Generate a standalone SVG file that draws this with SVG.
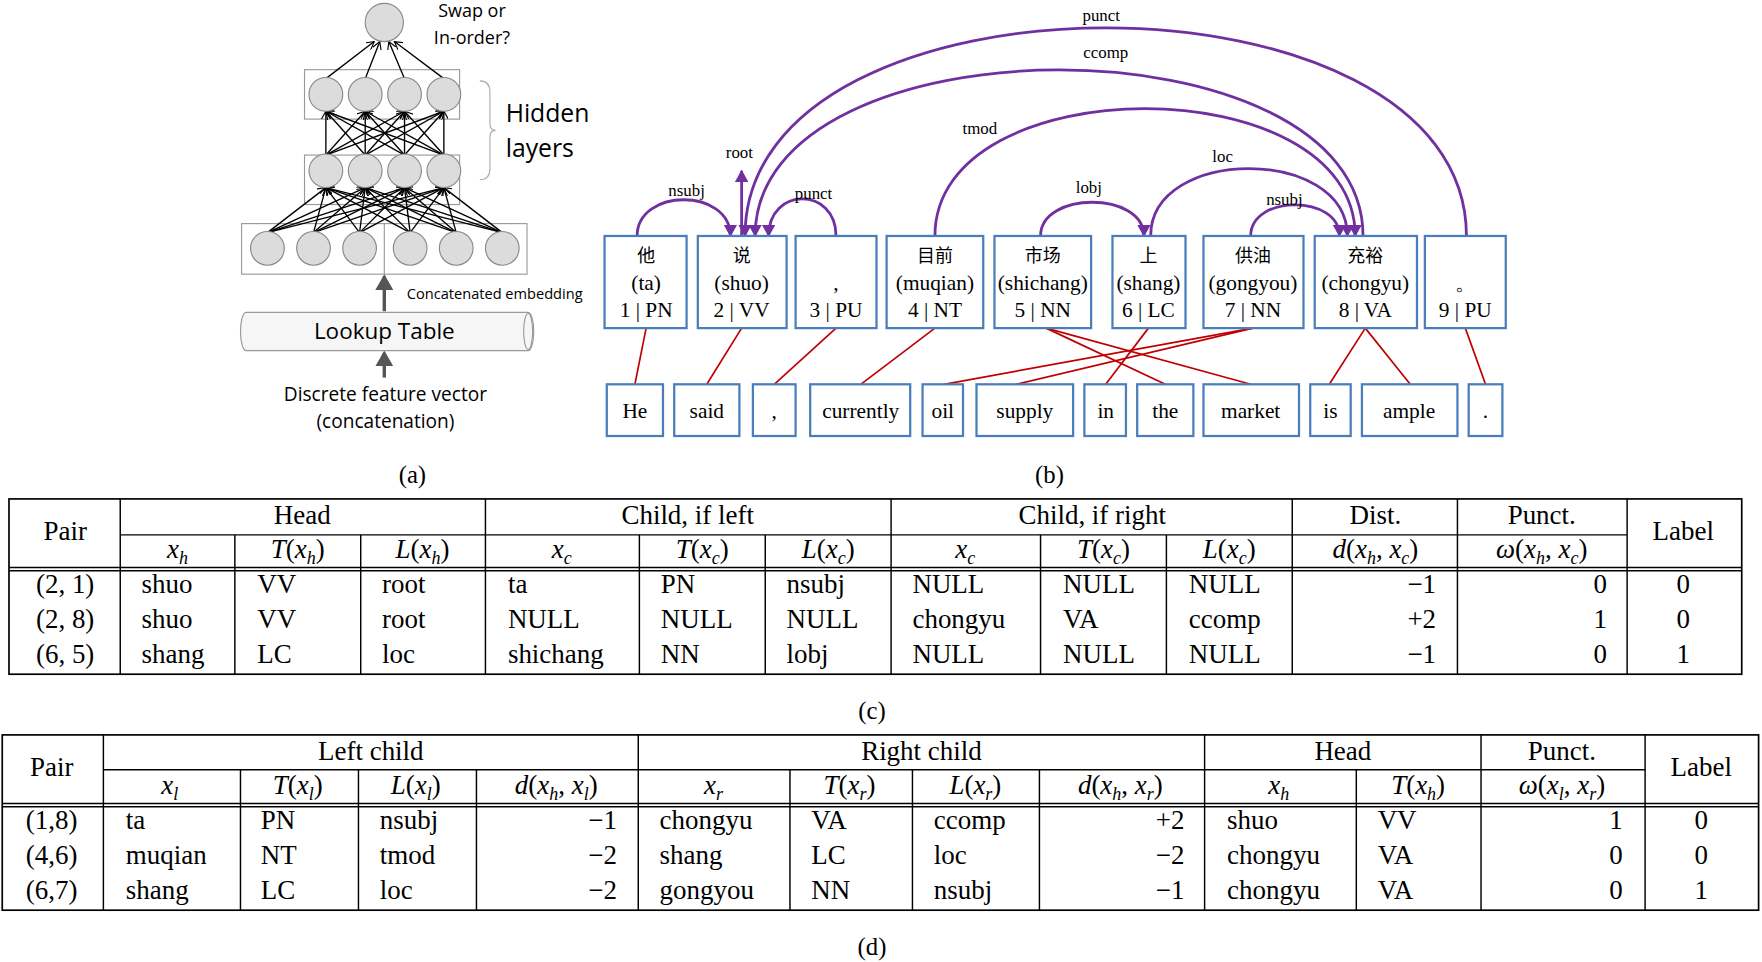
<svg xmlns="http://www.w3.org/2000/svg" width="1762" height="962" viewBox="0 0 1762 962">
<style>
.s{font-family:"Liberation Serif",serif;fill:#000}
.o{font-family:"Open Sans","Liberation Sans",sans-serif;fill:#000}
.t{font-size:24px}
.c{text-anchor:middle}
.r{text-anchor:end}
.i{font-style:italic}
.nl{stroke:#000;stroke-width:1.2;marker-end:url(#oa)}
.nc{fill:#dcdcdc;stroke:#888;stroke-width:1}
.bx{fill:none;stroke:#999;stroke-width:1}
.wb{fill:#fff;stroke:#4a7ebb;stroke-width:2}
.red{stroke:#c00000;stroke-width:1.5}
.arc{fill:none;stroke:#7030a0;stroke-width:2.5;marker-end:url(#pa)}
.tl{stroke:#000;stroke-width:1.3}
.tt{stroke:#aaa;stroke-width:0.8}
.cn{font-family:"Noto Sans CJK SC",sans-serif;font-size:16px}
.wl{font-size:19px}
.al{font-size:15px}
</style>
<defs>
<marker id="oa" markerWidth="8" markerHeight="8" refX="7" refY="4" orient="auto" markerUnits="userSpaceOnUse"><path d="M0,0 L7,4 L0,8" fill="none" stroke="#000" stroke-width="1"/></marker>
<marker id="pa" markerWidth="12" markerHeight="12" refX="10" refY="6" orient="auto" markerUnits="userSpaceOnUse"><path d="M0,0 L11,6 L0,12 Z" fill="#7030a0"/></marker>
<marker id="ga" markerWidth="16" markerHeight="16" refX="12" refY="8" orient="auto" markerUnits="userSpaceOnUse"><path d="M0,0 L14,8 L0,16 Z" fill="#555"/></marker>
</defs>
<g transform="scale(1.1237)">
<g id="netA">
<rect class="bx" x="271" y="62" width="138" height="44"/>
<rect class="bx" x="271" y="138" width="138" height="44"/>
<rect class="bx" x="215" y="199" width="254" height="45"/>
<g id="nl-lines">
<line class="nl" x1="238" y1="207" x2="290" y2="167"/><line class="nl" x1="238" y1="207" x2="325" y2="167"/><line class="nl" x1="238" y1="207" x2="360" y2="167"/><line class="nl" x1="238" y1="207" x2="395" y2="167"/>
<line class="nl" x1="279" y1="207" x2="290" y2="167"/><line class="nl" x1="279" y1="207" x2="325" y2="167"/><line class="nl" x1="279" y1="207" x2="360" y2="167"/><line class="nl" x1="279" y1="207" x2="395" y2="167"/>
<line class="nl" x1="320" y1="207" x2="290" y2="167"/><line class="nl" x1="320" y1="207" x2="325" y2="167"/><line class="nl" x1="320" y1="207" x2="360" y2="167"/><line class="nl" x1="320" y1="207" x2="395" y2="167"/>
<line class="nl" x1="365" y1="207" x2="290" y2="167"/><line class="nl" x1="365" y1="207" x2="325" y2="167"/><line class="nl" x1="365" y1="207" x2="360" y2="167"/><line class="nl" x1="365" y1="207" x2="395" y2="167"/>
<line class="nl" x1="406" y1="207" x2="290" y2="167"/><line class="nl" x1="406" y1="207" x2="325" y2="167"/><line class="nl" x1="406" y1="207" x2="360" y2="167"/><line class="nl" x1="406" y1="207" x2="395" y2="167"/>
<line class="nl" x1="447" y1="207" x2="290" y2="167"/><line class="nl" x1="447" y1="207" x2="325" y2="167"/><line class="nl" x1="447" y1="207" x2="360" y2="167"/><line class="nl" x1="447" y1="207" x2="395" y2="167"/>
<line class="nl" x1="290" y1="138" x2="290" y2="99"/><line class="nl" x1="290" y1="138" x2="325" y2="99"/><line class="nl" x1="290" y1="138" x2="360" y2="99"/><line class="nl" x1="290" y1="138" x2="395" y2="99"/>
<line class="nl" x1="325" y1="138" x2="290" y2="99"/><line class="nl" x1="325" y1="138" x2="325" y2="99"/><line class="nl" x1="325" y1="138" x2="360" y2="99"/><line class="nl" x1="325" y1="138" x2="395" y2="99"/>
<line class="nl" x1="360" y1="138" x2="290" y2="99"/><line class="nl" x1="360" y1="138" x2="325" y2="99"/><line class="nl" x1="360" y1="138" x2="360" y2="99"/><line class="nl" x1="360" y1="138" x2="395" y2="99"/>
<line class="nl" x1="395" y1="138" x2="290" y2="99"/><line class="nl" x1="395" y1="138" x2="325" y2="99"/><line class="nl" x1="395" y1="138" x2="360" y2="99"/><line class="nl" x1="395" y1="138" x2="395" y2="99"/>
<line class="nl" x1="290" y1="70" x2="333" y2="37"/><line class="nl" x1="325" y1="70" x2="338" y2="37"/><line class="nl" x1="360" y1="70" x2="346" y2="37"/><line class="nl" x1="395" y1="70" x2="351" y2="37"/>
</g>
<circle class="nc" cx="342" cy="20" r="17"/>
<circle class="nc" cx="290" cy="84" r="15"/><circle class="nc" cx="325" cy="84" r="15"/><circle class="nc" cx="360" cy="84" r="15"/><circle class="nc" cx="395" cy="84" r="15"/>
<circle class="nc" cx="290" cy="152" r="15"/><circle class="nc" cx="325" cy="152" r="15"/><circle class="nc" cx="360" cy="152" r="15"/><circle class="nc" cx="395" cy="152" r="15"/>
<circle class="nc" cx="238" cy="221" r="15"/><circle class="nc" cx="279" cy="221" r="15"/><circle class="nc" cx="320" cy="221" r="15"/><circle class="nc" cx="365" cy="221" r="15"/><circle class="nc" cx="406" cy="221" r="15"/><circle class="nc" cx="447" cy="221" r="15"/>
<line x1="342" y1="199" x2="342" y2="244" stroke="#999" stroke-width="1"/>
<line x1="342" y1="277" x2="342" y2="246" stroke="#555" stroke-width="3" marker-end="url(#ga)"/>
<line x1="342" y1="336" x2="342" y2="314" stroke="#555" stroke-width="3" marker-end="url(#ga)"/>
<path d="M219,278 L470,278 A5,17 0 0 1 470,312 L219,312 A5,17 0 0 1 219,278 Z" fill="#f6f6f6" stroke="#999" stroke-width="1"/>
<ellipse cx="470" cy="295" rx="4" ry="16" fill="none" stroke="#999"/>
<text class="o c" x="342" y="302" font-size="20">Lookup Table</text>
<text class="o" x="362" y="266" font-size="13">Concatenated embedding</text>
<text class="o c" x="343" y="357" font-size="17">Discrete feature  vector</text>
<text class="o c" x="343" y="381" font-size="17">(concatenation)</text>
<text class="o c" x="420" y="15" font-size="16">Swap or</text>
<text class="o c" x="420" y="39" font-size="16">In-order?</text>
<path d="M427,72 Q436,72 436,82 L436,110 Q436,116 441,116 Q436,116 436,122 L436,150 Q436,160 427,160" fill="none" stroke="#aaa" stroke-width="1"/>
<text class="o" x="450" y="109" font-size="22">Hidden</text>
<text class="o" x="450" y="140" font-size="22">layers</text>
<text class="s c" x="367" y="430" font-size="22">(a)</text>
</g>
<g id="connectors">
<line class="red" x1="575" y1="292" x2="565" y2="342"/>
<line class="red" x1="660" y1="292" x2="629" y2="342"/>
<line class="red" x1="744" y1="292" x2="689" y2="342"/>
<line class="red" x1="832" y1="292" x2="766" y2="342"/>
<line class="red" x1="931" y1="292" x2="1037" y2="342"/>
<line class="red" x1="931" y1="292" x2="1113" y2="342"/>
<line class="red" x1="1022" y1="292" x2="984" y2="342"/>
<line class="red" x1="1115" y1="292" x2="840" y2="342"/>
<line class="red" x1="1115" y1="292" x2="904" y2="342"/>
<line class="red" x1="1215" y1="292" x2="1183" y2="342"/>
<line class="red" x1="1215" y1="292" x2="1255" y2="342"/>
<line class="red" x1="1304" y1="292" x2="1322" y2="342"/>
<path class="arc" d="M567,210 C567,167 650,167 650,210"/>
<path class="arc" d="M660,210 L660,152"/>
<path class="arc" d="M744,210 C744,166 684,166 684,210"/>
<path class="arc" d="M1305,210 C1305,-37 663,-37 663,210"/>
<path class="arc" d="M1213,210 C1213,13 672,13 672,210"/>
<path class="arc" d="M832,210 C832,59 1206,59 1206,210"/>
<path class="arc" d="M1024,210 C1024,130 1199,130 1199,210"/>
<path class="arc" d="M926,210 C926,170 1018,170 1018,210"/>
<path class="arc" d="M1113,210 C1113,173 1192,173 1192,210"/>
</g>
<g id="arcLabels" class="s al">
<text class="s c al" x="980" y="19">punct</text>
<text class="s c al" x="984" y="52">ccomp</text>
<text class="s c al" x="872" y="119">tmod</text>
<text class="s c al" x="658" y="141">root</text>
<text class="s c al" x="611" y="174">nsubj</text>
<text class="s c al" x="724" y="177">punct</text>
<text class="s c al" x="969" y="172">lobj</text>
<text class="s c al" x="1088" y="144">loc</text>
<text class="s c al" x="1143" y="182">nsubj</text>
</g>
<g id="w1"><rect class="wb" x="538" y="210" width="73" height="82"/><text class="cn c" x="575" y="233">他</text><text class="s c wl" x="575" y="258">(ta)</text><text class="s c wl" x="575" y="282">1 | PN</text></g>
<g id="w2"><rect class="wb" x="621" y="210" width="79" height="82"/><text class="cn c" x="660" y="233">说</text><text class="s c wl" x="660" y="258">(shuo)</text><text class="s c wl" x="660" y="282">2 | VV</text></g>
<g id="w3"><rect class="wb" x="708" y="210" width="72" height="82"/><text class="s c wl" x="744" y="258">,</text><text class="s c wl" x="744" y="282">3 | PU</text></g>
<g id="w4"><rect class="wb" x="789" y="210" width="86" height="82"/><text class="cn c" x="832" y="233">目前</text><text class="s c wl" x="832" y="258">(muqian)</text><text class="s c wl" x="832" y="282">4 | NT</text></g>
<g id="w5"><rect class="wb" x="885" y="210" width="86" height="82"/><text class="cn c" x="928" y="233">市场</text><text class="s c wl" x="928" y="258">(shichang)</text><text class="s c wl" x="928" y="282">5 | NN</text></g>
<g id="w6"><rect class="wb" x="990" y="210" width="65" height="82"/><text class="cn c" x="1022" y="233">上</text><text class="s c wl" x="1022" y="258">(shang)</text><text class="s c wl" x="1022" y="282">6 | LC</text></g>
<g id="w7"><rect class="wb" x="1071" y="210" width="89" height="82"/><text class="cn c" x="1115" y="233">供油</text><text class="s c wl" x="1115" y="258">(gongyou)</text><text class="s c wl" x="1115" y="282">7 | NN</text></g>
<g id="w8"><rect class="wb" x="1170" y="210" width="91" height="82"/><text class="cn c" x="1215" y="233">充裕</text><text class="s c wl" x="1215" y="258">(chongyu)</text><text class="s c wl" x="1215" y="282">8 | VA</text></g>
<g id="w9"><rect class="wb" x="1268" y="210" width="72" height="82"/><text class="s c wl" x="1304" y="258">。</text><text class="s c wl" x="1304" y="282">9 | PU</text></g>
<g id="e1"><rect class="wb" x="540" y="342" width="50" height="46"/><text class="s c wl" x="565" y="372">He</text></g>
<g id="e2"><rect class="wb" x="600" y="342" width="58" height="46"/><text class="s c wl" x="629" y="372">said</text></g>
<g id="e3"><rect class="wb" x="670" y="342" width="38" height="46"/><text class="s c wl" x="689" y="372">,</text></g>
<g id="e4"><rect class="wb" x="721" y="342" width="89" height="46"/><text class="s c wl" x="766" y="372">currently</text></g>
<g id="e5"><rect class="wb" x="821" y="342" width="36" height="46"/><text class="s c wl" x="839" y="372">oil</text></g>
<g id="e6"><rect class="wb" x="869" y="342" width="86" height="46"/><text class="s c wl" x="912" y="372">supply</text></g>
<g id="e7"><rect class="wb" x="965" y="342" width="37" height="46"/><text class="s c wl" x="984" y="372">in</text></g>
<g id="e8"><rect class="wb" x="1012" y="342" width="50" height="46"/><text class="s c wl" x="1037" y="372">the</text></g>
<g id="e9"><rect class="wb" x="1071" y="342" width="85" height="46"/><text class="s c wl" x="1113" y="372">market</text></g>
<g id="e10"><rect class="wb" x="1166" y="342" width="36" height="46"/><text class="s c wl" x="1184" y="372">is</text></g>
<g id="e11"><rect class="wb" x="1212" y="342" width="85" height="46"/><text class="s c wl" x="1254" y="372">ample</text></g>
<g id="e12"><rect class="wb" x="1307" y="342" width="30" height="46"/><text class="s c wl" x="1322" y="372">.</text></g>
<text class="s c" x="934" y="430" font-size="22">(b)</text>

<g id="tableC" class="s t">
<rect x="8" y="444" width="1542" height="156" fill="none" stroke="#000" stroke-width="1.5"/>
<line class="tl" x1="107" y1="476" x2="1448" y2="476"/>
<line class="tl" x1="8" y1="505" x2="1550" y2="505"/><line class="tl" x1="8" y1="508" x2="1550" y2="508"/>
<g class="tl">
<line x1="107" y1="444" x2="107" y2="600"/><line x1="432" y1="444" x2="432" y2="600"/><line x1="793" y1="444" x2="793" y2="600"/><line x1="1150" y1="444" x2="1150" y2="600"/><line x1="1297" y1="444" x2="1297" y2="600"/><line x1="1448" y1="444" x2="1448" y2="600"/>
<line x1="209" y1="476" x2="209" y2="600"/><line x1="321" y1="476" x2="321" y2="600"/><line x1="569" y1="476" x2="569" y2="600"/><line x1="681" y1="476" x2="681" y2="600"/><line x1="926" y1="476" x2="926" y2="600"/><line x1="1038" y1="476" x2="1038" y2="600"/>
</g>
<text class="c" x="58" y="481">Pair</text><text class="c" x="269" y="466">Head</text><text class="c" x="612" y="466">Child, if left</text><text class="c" x="972" y="466">Child, if right</text><text class="c" x="1224" y="466">Dist.</text><text class="c" x="1372" y="466">Punct.</text><text class="c" x="1498" y="481">Label</text>
<text class="c i" x="158" y="497">x<tspan font-size="16" dy="5">h</tspan></text>
<text class="c" x="265" y="497"><tspan class="i">T</tspan>(<tspan class="i">x</tspan><tspan class="i" font-size="16" dy="5">h</tspan><tspan dy="-5">)</tspan></text>
<text class="c" x="376" y="497"><tspan class="i">L</tspan>(<tspan class="i">x</tspan><tspan class="i" font-size="16" dy="5">h</tspan><tspan dy="-5">)</tspan></text>
<text class="c i" x="500" y="497">x<tspan font-size="16" dy="5">c</tspan></text>
<text class="c" x="625" y="497"><tspan class="i">T</tspan>(<tspan class="i">x</tspan><tspan class="i" font-size="16" dy="5">c</tspan><tspan dy="-5">)</tspan></text>
<text class="c" x="737" y="497"><tspan class="i">L</tspan>(<tspan class="i">x</tspan><tspan class="i" font-size="16" dy="5">c</tspan><tspan dy="-5">)</tspan></text>
<text class="c i" x="859" y="497">x<tspan font-size="16" dy="5">c</tspan></text>
<text class="c" x="982" y="497"><tspan class="i">T</tspan>(<tspan class="i">x</tspan><tspan class="i" font-size="16" dy="5">c</tspan><tspan dy="-5">)</tspan></text>
<text class="c" x="1094" y="497"><tspan class="i">L</tspan>(<tspan class="i">x</tspan><tspan class="i" font-size="16" dy="5">c</tspan><tspan dy="-5">)</tspan></text>
<text class="c" x="1224" y="497"><tspan class="i">d</tspan>(<tspan class="i">x</tspan><tspan class="i" font-size="16" dy="5">h</tspan><tspan dy="-5">, </tspan><tspan class="i">x</tspan><tspan class="i" font-size="16" dy="5">c</tspan><tspan dy="-5">)</tspan></text>
<text class="c" x="1372" y="497"><tspan class="i">ω</tspan>(<tspan class="i">x</tspan><tspan class="i" font-size="16" dy="5">h</tspan><tspan dy="-5">, </tspan><tspan class="i">x</tspan><tspan class="i" font-size="16" dy="5">c</tspan><tspan dy="-5">)</tspan></text>
<text class="c" x="58" y="528">(2, 1)</text><text x="126" y="528">shuo</text><text x="229" y="528">VV</text><text x="340" y="528">root</text><text x="452" y="528">ta</text><text x="588" y="528">PN</text><text x="700" y="528">nsubj</text><text x="812" y="528">NULL</text><text x="946" y="528">NULL</text><text x="1058" y="528">NULL</text><text class="r" x="1278" y="528">−1</text><text class="r" x="1430" y="528">0</text><text class="c" x="1498" y="528">0</text>
<text class="c" x="58" y="559">(2, 8)</text><text x="126" y="559">shuo</text><text x="229" y="559">VV</text><text x="340" y="559">root</text><text x="452" y="559">NULL</text><text x="588" y="559">NULL</text><text x="700" y="559">NULL</text><text x="812" y="559">chongyu</text><text x="946" y="559">VA</text><text x="1058" y="559">ccomp</text><text class="r" x="1278" y="559">+2</text><text class="r" x="1430" y="559">1</text><text class="c" x="1498" y="559">0</text>
<text class="c" x="58" y="590">(6, 5)</text><text x="126" y="590">shang</text><text x="229" y="590">LC</text><text x="340" y="590">loc</text><text x="452" y="590">shichang</text><text x="588" y="590">NN</text><text x="700" y="590">lobj</text><text x="812" y="590">NULL</text><text x="946" y="590">NULL</text><text x="1058" y="590">NULL</text><text class="r" x="1278" y="590">−1</text><text class="r" x="1430" y="590">0</text><text class="c" x="1498" y="590">1</text>
</g>
<text class="s c" x="776" y="640" font-size="22">(c)</text>

<g id="tableD" class="s t">
<rect x="2" y="654" width="1563" height="156" fill="none" stroke="#000" stroke-width="1.5"/>
<line class="tl" x1="92" y1="685" x2="1464" y2="685"/>
<line class="tl" x1="2" y1="715" x2="1565" y2="715"/><line class="tl" x1="2" y1="718" x2="1565" y2="718"/>
<g class="tl">
<line x1="92" y1="654" x2="92" y2="810"/><line x1="568" y1="654" x2="568" y2="810"/><line x1="1072" y1="654" x2="1072" y2="810"/><line x1="1318" y1="654" x2="1318" y2="810"/><line x1="1464" y1="654" x2="1464" y2="810"/>
<line x1="214" y1="685" x2="214" y2="810"/><line x1="319" y1="685" x2="319" y2="810"/><line x1="424" y1="685" x2="424" y2="810"/><line x1="703" y1="685" x2="703" y2="810"/><line x1="812" y1="685" x2="812" y2="810"/><line x1="925" y1="685" x2="925" y2="810"/><line x1="1207" y1="685" x2="1207" y2="810"/>
</g>
<text class="c" x="46" y="691">Pair</text><text class="c" x="330" y="676">Left child</text><text class="c" x="820" y="676">Right child</text><text class="c" x="1195" y="676">Head</text><text class="c" x="1390" y="676">Punct.</text><text class="c" x="1514" y="691">Label</text>
<text class="c i" x="151" y="707">x<tspan font-size="16" dy="5">l</tspan></text>
<text class="c" x="265" y="707"><tspan class="i">T</tspan>(<tspan class="i">x</tspan><tspan class="i" font-size="16" dy="5">l</tspan><tspan dy="-5">)</tspan></text>
<text class="c" x="370" y="707"><tspan class="i">L</tspan>(<tspan class="i">x</tspan><tspan class="i" font-size="16" dy="5">l</tspan><tspan dy="-5">)</tspan></text>
<text class="c" x="495" y="707"><tspan class="i">d</tspan>(<tspan class="i">x</tspan><tspan class="i" font-size="16" dy="5">h</tspan><tspan dy="-5">, </tspan><tspan class="i">x</tspan><tspan class="i" font-size="16" dy="5">l</tspan><tspan dy="-5">)</tspan></text>
<text class="c i" x="635" y="707">x<tspan font-size="16" dy="5">r</tspan></text>
<text class="c" x="756" y="707"><tspan class="i">T</tspan>(<tspan class="i">x</tspan><tspan class="i" font-size="16" dy="5">r</tspan><tspan dy="-5">)</tspan></text>
<text class="c" x="868" y="707"><tspan class="i">L</tspan>(<tspan class="i">x</tspan><tspan class="i" font-size="16" dy="5">r</tspan><tspan dy="-5">)</tspan></text>
<text class="c" x="997" y="707"><tspan class="i">d</tspan>(<tspan class="i">x</tspan><tspan class="i" font-size="16" dy="5">h</tspan><tspan dy="-5">, </tspan><tspan class="i">x</tspan><tspan class="i" font-size="16" dy="5">r</tspan><tspan dy="-5">)</tspan></text>
<text class="c i" x="1138" y="707">x<tspan font-size="16" dy="5">h</tspan></text>
<text class="c" x="1262" y="707"><tspan class="i">T</tspan>(<tspan class="i">x</tspan><tspan class="i" font-size="16" dy="5">h</tspan><tspan dy="-5">)</tspan></text>
<text class="c" x="1390" y="707"><tspan class="i">ω</tspan>(<tspan class="i">x</tspan><tspan class="i" font-size="16" dy="5">l</tspan><tspan dy="-5">, </tspan><tspan class="i">x</tspan><tspan class="i" font-size="16" dy="5">r</tspan><tspan dy="-5">)</tspan></text>
<text class="c" x="46" y="738">(1,8)</text><text x="112" y="738">ta</text><text x="232" y="738">PN</text><text x="338" y="738">nsubj</text><text class="r" x="549" y="738">−1</text><text x="587" y="738">chongyu</text><text x="722" y="738">VA</text><text x="831" y="738">ccomp</text><text class="r" x="1054" y="738">+2</text><text x="1092" y="738">shuo</text><text x="1226" y="738">VV</text><text class="r" x="1444" y="738">1</text><text class="c" x="1514" y="738">0</text>
<text class="c" x="46" y="769">(4,6)</text><text x="112" y="769">muqian</text><text x="232" y="769">NT</text><text x="338" y="769">tmod</text><text class="r" x="549" y="769">−2</text><text x="587" y="769">shang</text><text x="722" y="769">LC</text><text x="831" y="769">loc</text><text class="r" x="1054" y="769">−2</text><text x="1092" y="769">chongyu</text><text x="1226" y="769">VA</text><text class="r" x="1444" y="769">0</text><text class="c" x="1514" y="769">0</text>
<text class="c" x="46" y="800">(6,7)</text><text x="112" y="800">shang</text><text x="232" y="800">LC</text><text x="338" y="800">loc</text><text class="r" x="549" y="800">−2</text><text x="587" y="800">gongyou</text><text x="722" y="800">NN</text><text x="831" y="800">nsubj</text><text class="r" x="1054" y="800">−1</text><text x="1092" y="800">chongyu</text><text x="1226" y="800">VA</text><text class="r" x="1444" y="800">0</text><text class="c" x="1514" y="800">1</text>
</g>
<text class="s c" x="776" y="850" font-size="22">(d)</text>
</g>
</svg>
